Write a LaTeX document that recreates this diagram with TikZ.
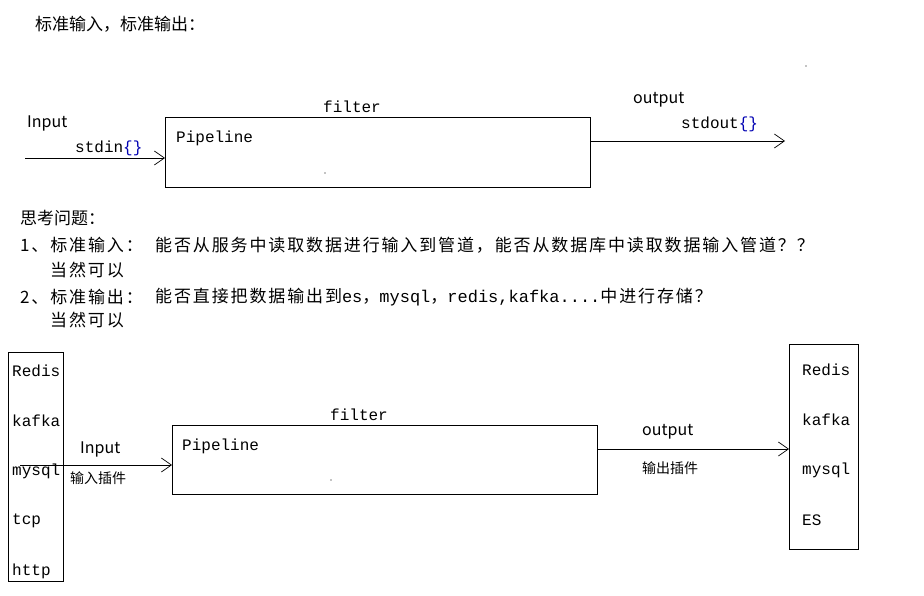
\documentclass[tikz,border=0pt]{standalone}
\usepackage{fontspec}
\setmainfont{Noto Sans CJK SC}
\newfontfamily\qfont[LetterSpace=11]{Noto Sans CJK SC}
\newfontfamily\monof{Liberation Mono}
\usetikzlibrary{arrows.meta}
\begin{document}
\begin{tikzpicture}[x=1pt,y=-1pt,
  txt/.style={anchor=west,inner sep=0pt,font=\fontsize{17}{19}\selectfont},
  qtxt/.style={anchor=west,inner sep=0pt,font=\qfont\fontsize{17}{19}\selectfont},
  mono/.style={anchor=west,inner sep=0pt,font=\monof\fontsize{16}{18}\selectfont},
  box/.style={draw,line width=0.8pt},
  arr/.style={-{Straight Barb[length=10pt,width=14pt]},line width=0.7pt},
  dotn/.style={circle,fill,inner sep=0.5pt}]
\useasboundingbox (0,0) rectangle (924,596);
\node[txt] (title) at (35,24) {标准输入，标准输出：};
% top
\node[box,minimum width=425,minimum height=70,anchor=north west] (p1) at (165,117) {};
\node[mono] (pl1) at (176,138) {Pipeline};
\node[mono] (f1) at (323,107) {filter};
\node[dotn] (d1) at (325,173) {};
\node[txt,font=\fontsize{16}{18}\selectfont] (in1) at (27,123) {Input};
\coordinate (a1) at (25,158);
\draw[arr] (a1) -- (p1.west |- a1);
\node[mono] (sin) at (75,148) {stdin\textcolor{blue!70!black}{\{\}}};
\node[txt,font=\fontsize{16}{18}\selectfont] (out1) at (633,100) {output};
\node[mono] (sout) at (681,124) {stdout\textcolor{blue!70!black}{\{\}}};
\coordinate (b1) at (785,141);
\draw[arr] (p1.east |- b1) -- (b1);
\node[dotn] (d0) at (806,66) {};
% questions
\node[txt] (q0) at (20,218) {思考问题：};
\node[qtxt] (q1) at (20,245) {1、标准输入：};
\node[qtxt] (q1t) at (155,245) {能否从服务中读取数据进行输入到管道，能否从数据库中读取数据输入管道？？};
\node[qtxt] (q1a) at (50,270) {当然可以};
\node[qtxt] (q2) at (20,297) {2、标准输出：};
\node[qtxt] (q2t) at (155,297) {能否直接把数据输出到{\monof es}，{\monof mysql}，{\monof redis,kafka....}中进行存储？};
\node[qtxt] (q2a) at (50,320) {当然可以};
% bottom
\node[box,minimum width=55,minimum height=229,anchor=north west] (lb) at (8,352) {};
\foreach \t/\y/\n in {Redis/371/l1,kafka/421/l2,mysql/471/l3,tcp/521/l4,http/571/l5}
  \node[mono] (\n) at (12,\y) {\t};
\node[box,minimum width=425,minimum height=69,anchor=north west] (p2) at (172,425) {};
\node[mono] (pl2) at (182,446) {Pipeline};
\node[mono] (f2) at (330,415) {filter};
\node[dotn] (d2) at (331,480) {};
\node[txt,font=\fontsize{16}{18}\selectfont] (in2) at (80,449) {Input};
\coordinate (a2) at (20,465);
\draw[arr] (a2) -- (p2.west |- a2);
\node[txt,font=\fontsize{14}{16}\selectfont] (in2b) at (70,478) {输入插件};
\node[txt,font=\fontsize{16}{18}\selectfont] (out2) at (642,432) {output};
\node[txt,font=\fontsize{14}{16}\selectfont] (out2b) at (642,468) {输出插件};
\node[box,minimum width=69,minimum height=205,anchor=north west] (rb) at (789,344) {};
\draw[arr] (p2.east |- 0,449) -- (rb.west |- 0,449);
\foreach \t/\y/\n in {Redis/370/r1,kafka/420/r2,mysql/470/r3,ES/520/r4}
  \node[mono] (\n) at (802,\y) {\t};
\end{tikzpicture}
\end{document}
